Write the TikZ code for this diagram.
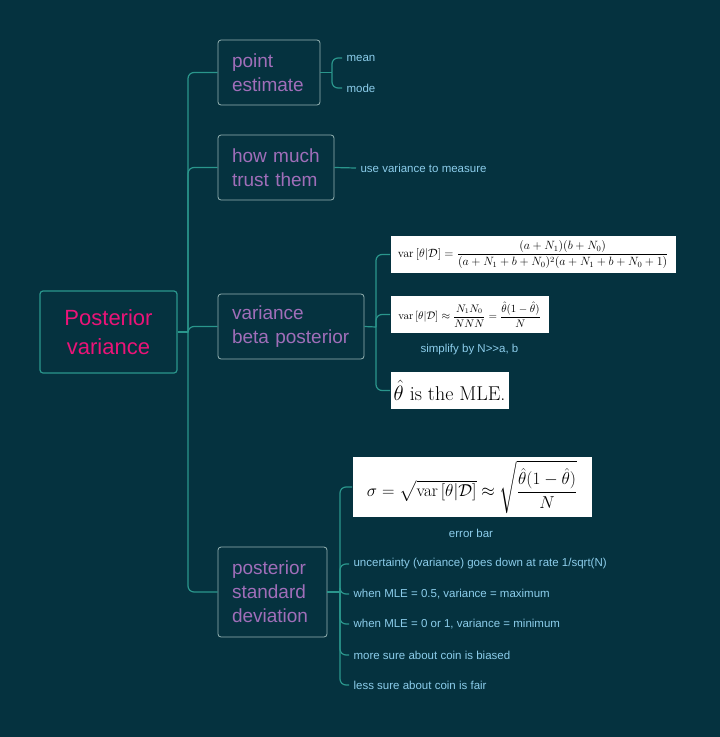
\documentclass[tikz,border=0pt]{standalone}
\usepackage{amsmath}
\usepackage[no-math]{fontspec}
\setmainfont{Liberation Sans}
\usetikzlibrary{positioning}
\definecolor{bgcol}{RGB}{5,50,63}
\definecolor{linecol}{RGB}{42,150,140}
\definecolor{boxcol}{RGB}{150,180,180}
\definecolor{topiccol}{RGB}{160,110,185}
\definecolor{rootcol}{RGB}{235,20,120}
\definecolor{leafcol}{RGB}{140,205,235}
\newcommand{\mathfont}{\fontspec{Latin Modern Roman}}
\tikzset{
	every path/.style={line width=1.2pt},
	rootbox/.style={draw=linecol,rounded corners=3pt,minimum width=137pt,minimum height=82pt,text=rootcol,align=center,font=\fontsize{22}{29}\selectfont},
	topicbox/.style={draw=boxcol,line width=0.8pt,rounded corners=3pt,minimum height=65pt,text=topiccol,align=left,inner xsep=14pt,font=\fontsize{19}{24}\selectfont},
	leaf/.style={text=leafcol,anchor=west,inner xsep=4pt,inner ysep=1pt,font=\fontsize{11.5}{13}\selectfont},
	picbox/.style={fill=white,anchor=west,inner sep=2pt,text=black},
	branch/.style={draw=linecol,rounded corners=6pt},
}
\begin{document}
\begin{tikzpicture}[x=1pt,y=-1pt]
	\fill [bgcol] (0,0) rectangle (720,737);
	\useasboundingbox (0,0) rectangle (720,737);

	% root and topics...................
	\node [rootbox] (root) at (108.5,332) {Posterior\\variance};
	\node [topicbox,text width=74pt] (point) at (269,72.5) {point\\estimate};
	\node [topicbox,text width=88pt] (trust) at (276,167.5) {how much\\trust them};
	\node [topicbox,text width=118pt] (beta) at (291,326.5) {variance\\beta posterior};
	\node [topicbox,text width=81pt,minimum height=90pt] (stdev) at (272.5,592) {posterior\\standard\\deviation};

	% trunk..............................
	\coordinate (hub) at (188,332);
	\draw [branch] (root.east) -- (hub);
	\foreach \t in {point,trust,beta,stdev}
		\draw [branch] (hub) |- (\t.west);

	% point estimate.....................
	\node [leaf] (mean) at (342,58) {mean};
	\node [leaf] (mode) at (342,88) {mode};
	\coordinate (hubA) at (332,72.5);
	\draw [branch] (point.east) -- (hubA);
	\foreach \t in {mean,mode}
		\draw [branch] (hubA) |- (\t.west);

	% trust..............................
	\node [leaf] (measure) at (356,168) {use variance to measure};
	\draw [branch] (trust.east) -- (measure.west);

	% beta posterior formulas............
	\node [picbox,minimum width=285pt,minimum height=37pt] (fexact) at (390,254.5) {\fontsize{12}{14}\selectfont
		$\mathrm{var}\left[\theta|\mathcal{D}\right]=\dfrac{(a+N_1)(b+N_0)}{(a+N_1+b+N_0)^2(a+N_1+b+N_0+1)}$};
	\node [picbox,minimum width=158pt,minimum height=37pt] (fapprox) at (390,314.5) {\fontsize{10.5}{12}\selectfont
		$\mathrm{var}\left[\theta|\mathcal{D}\right]\approx\dfrac{N_1N_0}{NNN}=\dfrac{\hat\theta(1-\hat\theta)}{N}$};
	\node [leaf] (simplify) at (416,350) {simplify by N>{}>a, b};
	\node [picbox,minimum width=118pt,minimum height=37pt] (mle) at (390,390.5) {\mathfont\fontsize{20}{22}\selectfont $\hat\theta$ is the MLE.};
	\coordinate (hubB) at (376,327);
	\draw [branch] (beta.east) -- (hubB);
	\foreach \t in {fexact,fapprox,mle}
		\draw [branch] (hubB) |- (\t.west);

	% standard deviation.................
	\node [picbox,minimum width=239pt,minimum height=60pt] (fsigma) at (352,487) {\fontsize{16}{18}\selectfont
		$\sigma=\sqrt{\mathrm{var}\left[\theta|\mathcal{D}\right]}\approx\sqrt{\dfrac{\hat\theta(1-\hat\theta)}{N}}$};
	\node [leaf,anchor=center] (errbar) at (471,533) {error bar};
	\node [leaf] (rate) at (349,564) {uncertainty (variance) goes down at rate 1/sqrt(N)};
	\node [leaf] (maxv) at (349,594) {when MLE = 0.5, variance = maximum};
	\node [leaf] (minv) at (349,624) {when MLE = 0 or 1, variance = minimum};
	\node [leaf] (biased) at (349,655) {more sure about coin is biased};
	\node [leaf] (fair) at (349,685) {less sure about coin is fair};
	\coordinate (hubC) at (340,592);
	\draw [branch] (stdev.east) -- (hubC);
	\foreach \t in {fsigma,rate,maxv,minv,biased,fair}
		\draw [branch] (hubC) |- (\t.west);
\end{tikzpicture}
\end{document}
